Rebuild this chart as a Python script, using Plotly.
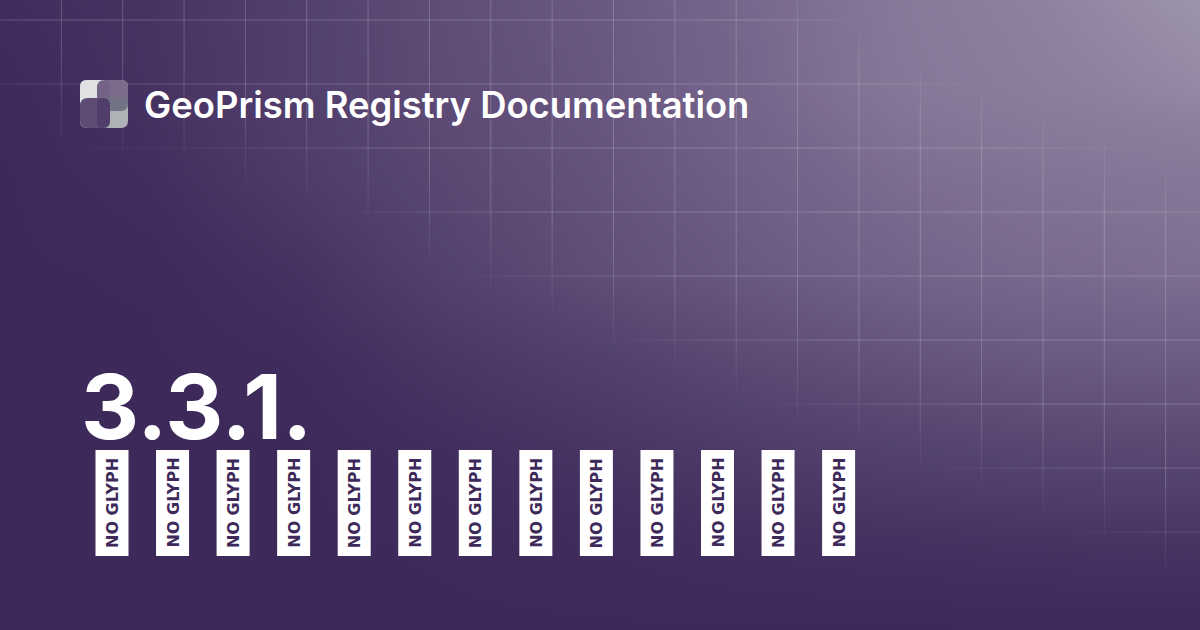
import numpy as np
import plotly.graph_objects as go

bg_x = [0, 150, 300, 450, 600, 750, 900, 1050, 1200]
bg_y = [0, 90, 180, 270, 360, 450, 540, 630]
bg_z = [
    [65, 71, 82, 96, 106, 120, 136, 146, 158],
    [62, 70, 82, 94, 104, 118, 134, 142, 150],
    [61, 66, 78, 90, 100, 112, 124, 130, 134],
    [61, 62, 70, 84, 96, 106, 116, 122, 126],
    [61, 61, 64, 74, 82, 92, 100, 106, 108],
    [61, 61, 61, 66, 72, 78, 84, 88, 90],
    [61, 61, 61, 62, 64, 67, 69, 71, 72],
    [61, 61, 61, 61, 61, 61, 61, 61, 61],
]
bg_scale = [
    [61, "#3d295a"],
    [90, "#5a4873"],
    [110, "#6e5d85"],
    [130, "#827294"],
    [145, "#90809f"],
    [160, "#9f97ae"],
]

# where the grid lines die out: lower edge and top right corner
fade_x = [0, 62, 185, 369, 430, 553, 737, 860, 982, 1103, 1200]
fade_bottom = [120, 160, 180, 240, 280, 330, 410, 460, 505, 555, 610]
glow_x = [700, 860, 922, 1042, 1165, 1200]
glow_top = [-100, 10, 50, 100, 150, 170]

title = "GeoPrism Registry Documentation"
version = "3.3.1."
tofu_labels = ["NO GLYPH"] * 13


def line_alpha(x, y):
    low = np.clip((np.interp(x, fade_x, fade_bottom) - y) / 110, 0, 1)
    high = np.clip((y - np.interp(x, glow_x, glow_top)) / 80, 0, 1)
    return low * high


def grid_traces(segments, base, width):
    # group the short pieces by opacity so it stays a few traces
    levels = {}
    for x0, y0, x1, y1 in segments:
        a = line_alpha((x0 + x1) / 2, (y0 + y1) / 2)
        key = round(float(a) * 24)
        if key == 0:
            continue
        xs, ys = levels.setdefault(key, ([], []))
        xs += [x0, x1, None]
        ys += [y0, y1, None]
    traces = []
    for key, (xs, ys) in levels.items():
        traces.append(go.Scatter(
            x=xs, y=ys, mode="lines", hoverinfo="skip", showlegend=False,
            line=dict(color=f"rgba(255,255,255,{base * key / 24:.3f})", width=width),
        ))
    return traces


def rounded(x0, y0, x1, y1, r):
    return (f"M{x0 + r},{y0} L{x1 - r},{y0} Q{x1},{y0} {x1},{y0 + r} "
            f"L{x1},{y1 - r} Q{x1},{y1} {x1 - r},{y1} L{x0 + r},{y1} "
            f"Q{x0},{y1} {x0},{y1 - r} L{x0},{y0 + r} Q{x0},{y0} {x0 + r},{y0} Z")


fig = go.Figure()

zmin, zmax = bg_scale[0][0], bg_scale[-1][0]
fig.add_trace(go.Heatmap(
    x=bg_x, y=bg_y, z=bg_z, zmin=zmin, zmax=zmax, zsmooth="best",
    colorscale=[[(v - zmin) / (zmax - zmin), c] for v, c in bg_scale],
    showscale=False, hoverinfo="skip",
))

step = 8
vertical = []
for k in range(1, 20):
    x = 61.35 * k
    for y in range(0, 630, step):
        vertical.append((x, y, x, y + step))
horizontal = []
for k in range(10):
    y = 20 + 64 * k
    for x in range(0, 1200, step):
        horizontal.append((x, y, x + step, y))
for tr in grid_traces(vertical, 0.2, 1):
    fig.add_trace(tr)
for tr in grid_traces(horizontal, 0.14, 1.4):
    fig.add_trace(tr)

shapes = []


def add_logo(x0, y0, x1, y1, r, color):
    shapes.append(dict(type="path", path=rounded(x0, y0, x1, y1, r),
                       fillcolor=color, line_width=0, layer="above"))


# logo: stacked translucent squares
add_logo(80, 80, 128, 128, 7, "#aeb1b6")
add_logo(80, 80, 112, 112, 7, "#dfe1e3")
add_logo(97, 80, 128, 111, 8, "#7d6b8c")
add_logo(97, 80, 110, 111, 6, "rgba(61,41,90,0.12)")
add_logo(97, 97, 128, 111, 7, "rgba(110,120,130,0.6)")
add_logo(80, 98, 110, 128, 8, "#5e4c74")
add_logo(97, 98, 110, 128, 6, "rgba(61,41,90,0.4)")

annotations = [
    dict(x=142, y=105, text=title, font=dict(family="Inter", size=36.4, color="#ffffff", weight=600),
         xanchor="left", yanchor="middle", showarrow=False),
    dict(x=79, y=406, text=version, font=dict(family="Inter", size=90, color="#ffffff", weight=700),
         xanchor="left", yanchor="middle", showarrow=False),
]

for i, label in enumerate(tofu_labels):
    cx = 112 + 60.55 * i
    shapes.append(dict(type="rect", x0=cx - 16.5, x1=cx + 16.5, y0=450, y1=556,
                       fillcolor="#ffffff", line_width=0, layer="above"))
    annotations.append(dict(
        x=cx, y=503, text=label, textangle=-90, showarrow=False,
        font=dict(family="DejaVu Sans", size=16, color="#3d295a", weight=700),
        xanchor="center", yanchor="middle",
    ))

fig.update_layout(
    width=1200, height=630,
    margin=dict(l=0, r=0, t=0, b=0),
    paper_bgcolor="#3d295a", plot_bgcolor="#3d295a",
    xaxis=dict(range=[0, 1200], visible=False, fixedrange=True),
    yaxis=dict(range=[630, 0], visible=False, fixedrange=True),
    shapes=shapes, annotations=annotations, showlegend=False,
)
fig.write_html("out.html", config={"displayModeBar": False},
               post_script="document.body.style.margin='0';")
